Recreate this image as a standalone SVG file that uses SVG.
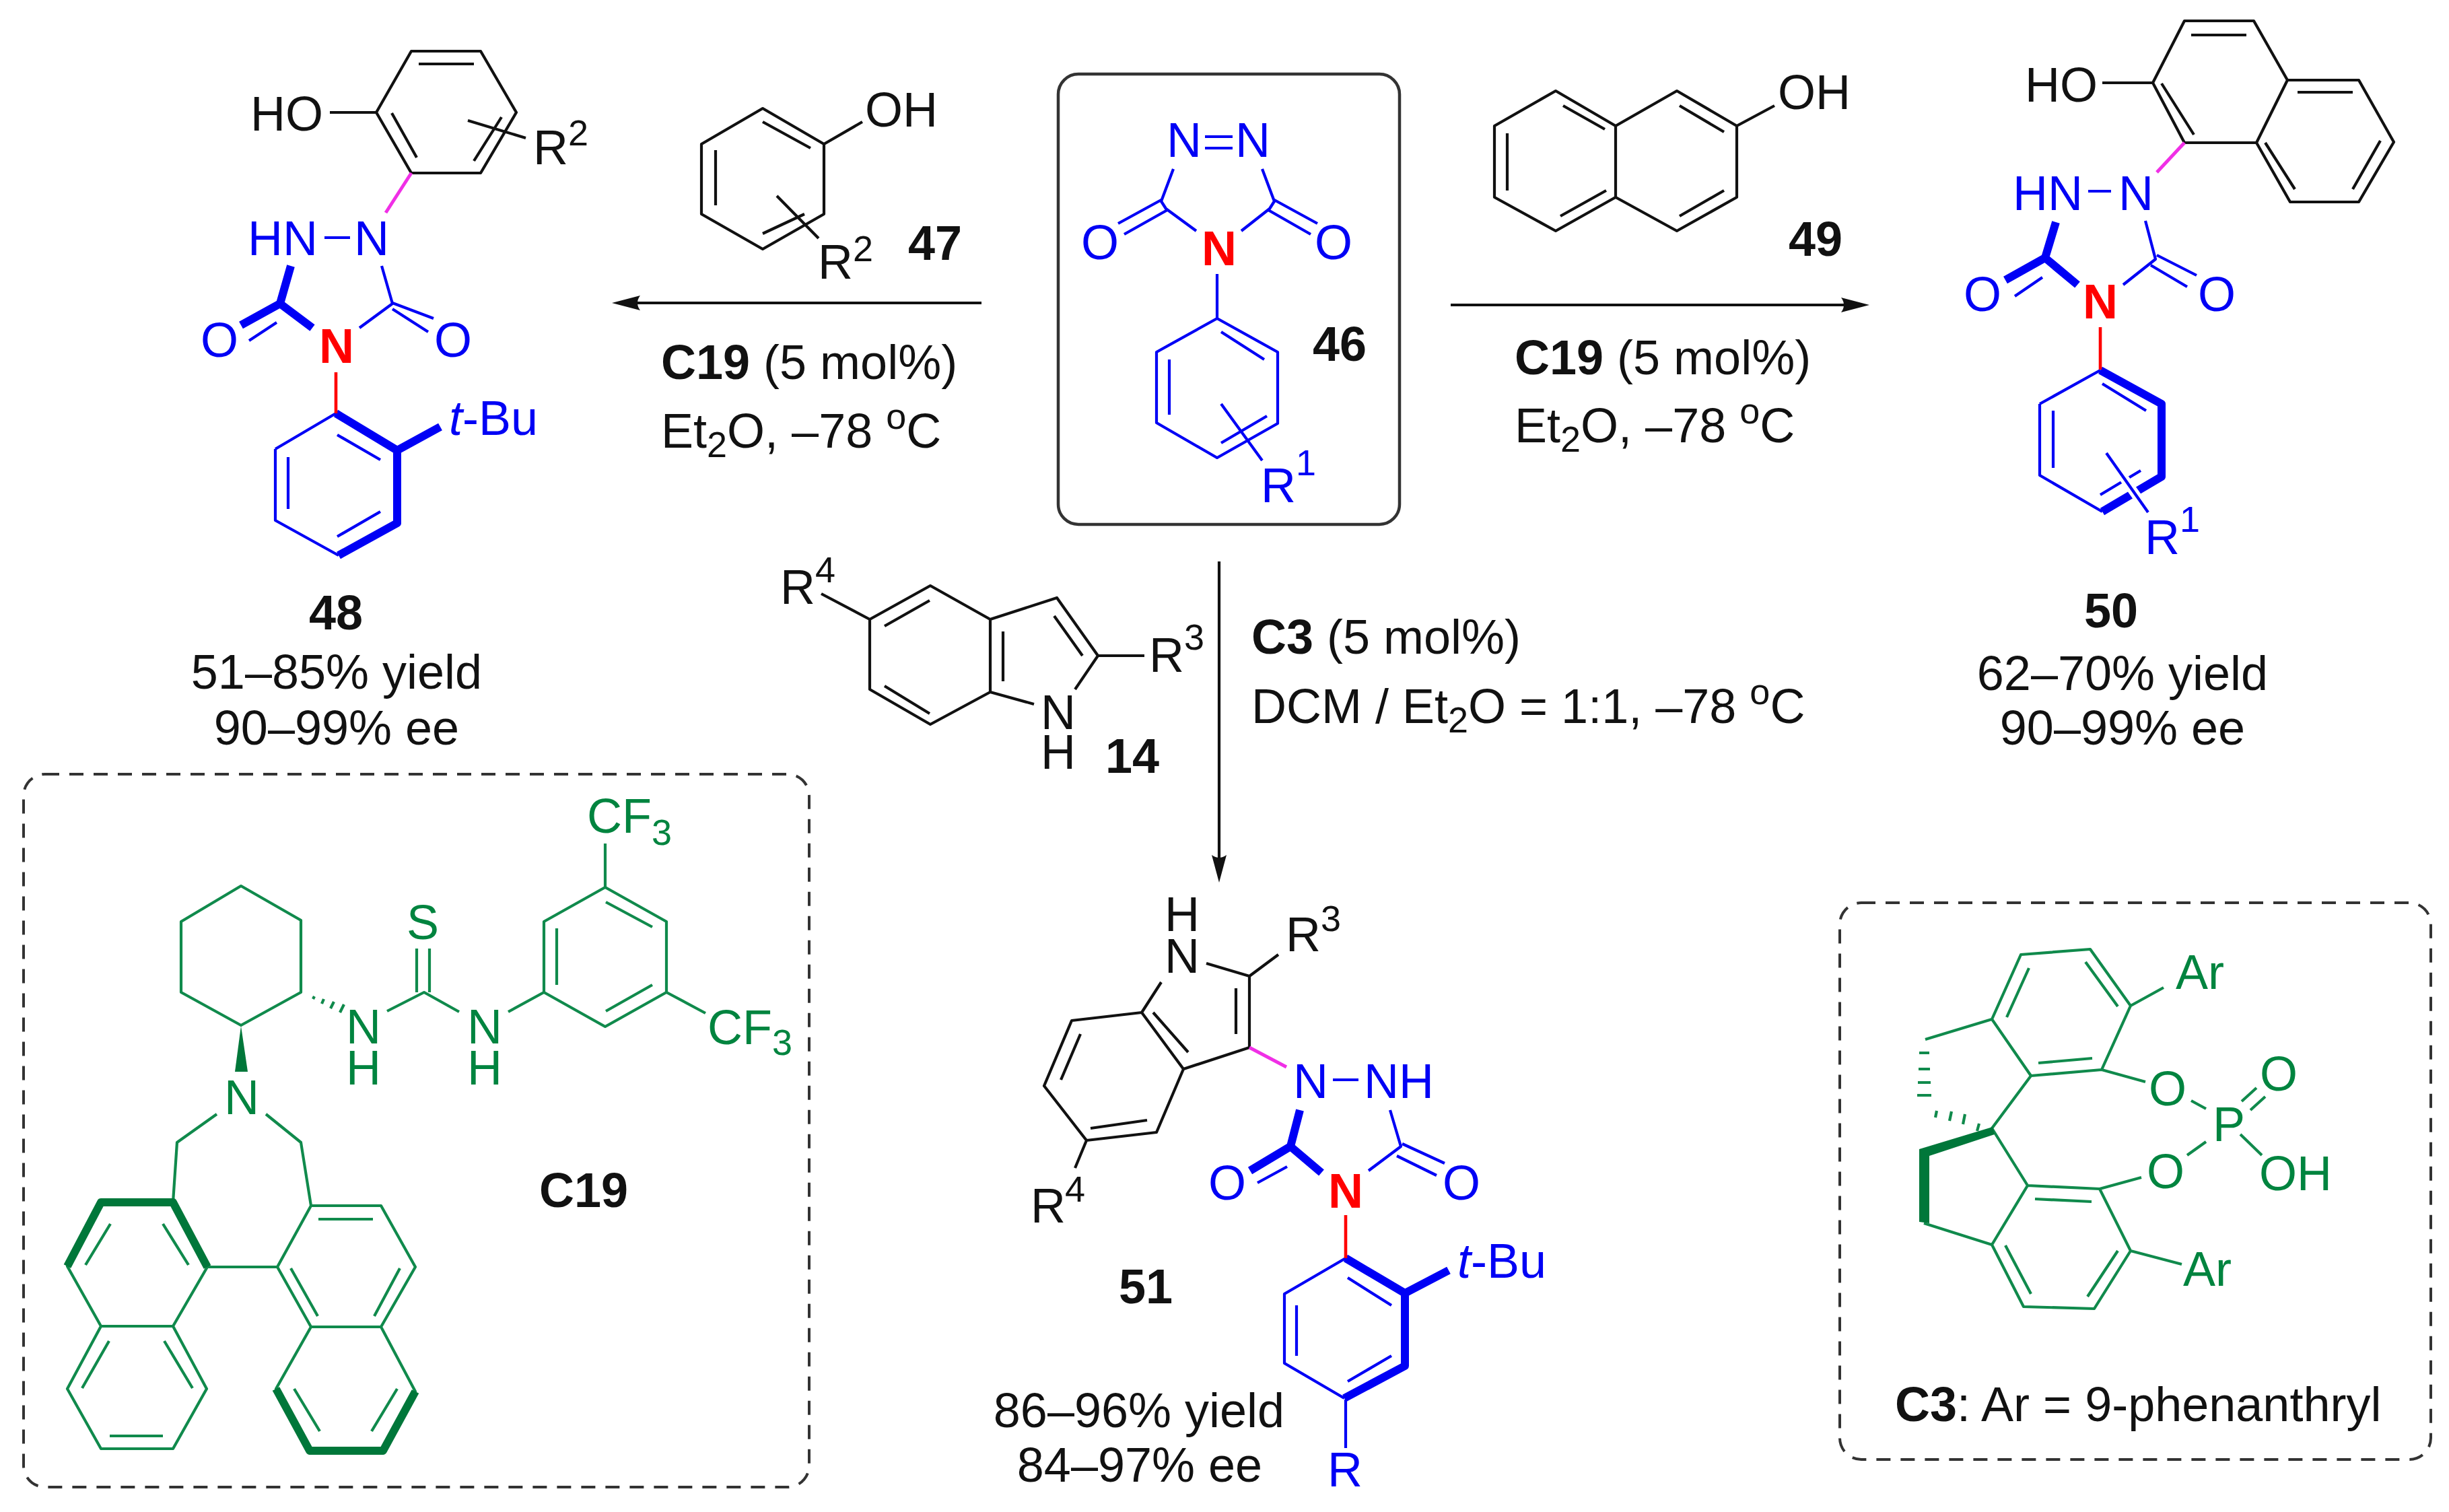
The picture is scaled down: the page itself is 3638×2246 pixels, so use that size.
<svg xmlns="http://www.w3.org/2000/svg" width="3638" height="2246" viewBox="0 0 3638 2246">
<style>
text{font-family:"Liberation Sans",Arial,sans-serif;font-size:72px;fill:#111}
.m{text-anchor:middle}
.h{font-weight:bold}
.s{font-size:54px}
.tb{fill:#0000f5}.tr{fill:#f00;font-weight:bold}.tg{fill:#00843f}
path{fill:none;stroke-width:4.2;stroke-linecap:butt;stroke-linejoin:round}
.k{stroke:#111}.b{stroke:#0000f5}.g{stroke:#108a4c}.r{stroke:#f00;stroke-width:4.6}.p{stroke:#f02fe6;stroke-width:5}
.B{stroke:#0000f5;stroke-width:12}.G{stroke:#00773a;stroke-width:12}
.w{stroke:#fff;stroke-width:14}
.d{fill:none;stroke:#333;stroke-width:4;stroke-dasharray:21 15}
.ar{fill:#111;stroke:none}
.gf{fill:#00773a;stroke:none}
</style>
<rect width="3638" height="2246" fill="#fff"/>
<g id="connectors">
<path class="k" d="M1458 450H935"/><path class="ar" d="M909 450L951 439Q943 450 951 461Z"/>
<path class="k" d="M2155 453H2750"/><path class="ar" d="M2777 453L2735 442Q2743 453 2735 464Z"/>
<path class="k" d="M1811 834V1285"/><path class="ar" d="M1811 1311L1800 1270Q1811 1278 1822 1270Z"/>
</g>
<g id="conditions">
<text x="982" y="563"><tspan class="h">C19</tspan> (5 mol%)</text>
<text x="982" y="665">Et<tspan class="s" dy="14">2</tspan><tspan dy="-14">O, –78 </tspan><tspan class="s" dy="-28">o</tspan><tspan dy="28">C</tspan></text>
<text x="2250" y="556"><tspan class="h">C19</tspan> (5 mol%)</text>
<text x="2250" y="657">Et<tspan class="s" dy="14">2</tspan><tspan dy="-14">O, –78 </tspan><tspan class="s" dy="-28">o</tspan><tspan dy="28">C</tspan></text>
<text x="1859" y="971"><tspan class="h">C3</tspan> (5 mol%)</text>
<text x="1859" y="1074">DCM / Et<tspan class="s" dy="14">2</tspan><tspan dy="-14">O = 1:1, –78 </tspan><tspan class="s" dy="-28">o</tspan><tspan dy="28">C</tspan></text>
</g>
<g id="node-46">
<rect x="1572" y="110" width="507" height="669" rx="30" fill="none" stroke="#333" stroke-width="4.5"/>
<text class="tb m" x="1759" y="233">N</text><text class="tb m" x="1861" y="233">N</text>
<path class="b" d="M1790 203H1831M1790 220H1831M1743 251L1725 299L1732 310L1777 343M1875 251L1893 299L1886 310L1844 343M1725 297L1661 332M1734 312L1670 348M1893 297L1957 332M1884 312L1947 348M1808 407V473L1898 523V629L1808 680L1718 628V523L1808 473M1814 493L1878 534M1737 534V616M1814 658L1882 618M1814 600L1875 684"/>
<text class="tb m" x="1634" y="385">O</text><text class="tb m" x="1981" y="385">O</text>
<text class="tr m" x="1811" y="394">N</text>
<text class="tb" x="1873" y="746">R</text><text class="tb s" x="1925" y="706">1</text>
<text class="h m" x="1990" y="536">46</text>
</g>
<g id="node-47">
<path class="k" d="M1133 161L1224 214V318L1133 370L1042 318V214ZM1133 181L1204 220M1063 223V305M1133 347L1195 318M1154 291L1216 354M1224 214L1281 181"/>
<text x="1285" y="188">OH</text>
<text x="1215" y="414">R</text><text class="s" x="1267" y="388">2</text>
<text class="h" x="1349" y="386">47</text>
</g>
<g id="node-48">
<path class="k" d="M490 167H559L611 76H714L767 167L714 257H611L559 167M622 95H704M582 168L619 234M745 174L704 239M695 179L781 205"/>
<text x="372" y="194">HO</text>
<text x="792" y="244">R</text><text class="s" x="844" y="216">2</text>
<path class="p" d="M611 257L573 316"/>
<text class="tb" x="368" y="379">HN</text>
<path class="b" d="M482 353H520"/>
<text class="tb" x="526" y="379">N</text>
<path class="B" d="M432 395L416 451L464 487M416 451L358 483M499 614L590 669V777L503 825M590 669L654 634"/>
<path class="b" d="M411 479L370 506M534 487L583 451L567 395M583 450L644 473M583 459L636 493M409 667L499 614M409 667V773L503 825M501 646L565 683M428 679V756M501 797L565 760"/>
<path class="r" d="M499 553V614"/>
<text class="tb m" x="326" y="530">O</text><text class="tb m" x="673" y="530">O</text>
<text class="tr m" x="500" y="539">N</text>
<text class="tb" x="667" y="646"><tspan font-style="italic">t</tspan>-Bu</text>
<text class="h m" x="499" y="935">48</text>
<text class="m" x="500" y="1023">51–85% yield</text>
<text class="m" x="500" y="1106">90–99% ee</text>
</g>
<g id="node-49">
<path class="k" d="M2311 135L2400 187V293L2311 343L2220 293V187ZM2400 187L2491 135L2580 187V293L2491 343L2400 293M2322 157L2384 192M2239 198V283M2318 321L2386 283M2495 157L2561 196M2495 321L2561 283M2580 187L2636 157"/>
<text x="2641" y="162">OH</text>
<text class="h" x="2657" y="380">49</text>
</g>
<g id="node-50">
<path class="k" d="M3123 123H3198L3245 31H3348L3398 119H3504L3556 211L3504 300H3402L3352 212L3398 119M3352 212H3245L3198 123M3255 52H3337M3211 124L3259 200M3413 137H3495M3536 209L3495 281M3365 212L3409 281"/>
<text x="3008" y="151">HO</text>
<path class="p" d="M3245 212L3204 256"/>
<text class="tb" x="2990" y="312">HN</text>
<path class="b" d="M3102 284H3136"/>
<text class="tb" x="3147" y="312">N</text>
<path class="B" d="M3054 330L3038 383L3086 423M3038 383L2979 416M3120 550L3211 600V708L3123 760"/>
<path class="b" d="M3034 412L2993 440M3154 423L3202 385L3187 328M3204 379L3263 409M3195 394L3249 426M3030 600L3120 550M3030 600V706L3123 760M3123 570L3188 610M3050 610V695M3120 735L3180 699"/>
<path class="w" d="M3129 673L3191 761"/>
<path class="b" d="M3129 673L3191 761"/>
<path class="r" d="M3120 486V549"/>
<text class="tb m" x="2945" y="462">O</text><text class="tb m" x="3293" y="462">O</text>
<text class="tr m" x="3120" y="473">N</text>
<text class="tb" x="3186" y="823">R</text><text class="tb s" x="3238" y="790">1</text>
<text class="h m" x="3136" y="932">50</text>
<text class="m" x="3153" y="1025">62–70% yield</text>
<text class="m" x="3153" y="1106">90–99% ee</text>
</g>
<g id="node-14">
<path class="k" d="M1220 882L1292 920L1382 870L1471 920V1028L1382 1076L1292 1024V920M1314 930L1381 892M1314 1019L1381 1060M1490 938V1012M1471 920L1570 888L1631 974L1597 1024M1471 1028L1536 1046M1566 915L1608 974M1631 974H1700"/>
<text x="1159" y="897">R</text><text class="s" x="1211" y="865">4</text>
<text x="1707" y="998">R</text><text class="s" x="1759" y="965">3</text>
<text class="m"><tspan x="1572" y="1083">N</tspan><tspan x="1572" y="1142">H</tspan></text>
<text class="h" x="1642" y="1148">14</text>
</g>
<g id="node-51">
<text class="m"><tspan x="1756" y="1383">H</tspan><tspan x="1756" y="1445">N</tspan></text>
<text x="1910" y="1413">R</text><text class="s" x="1962" y="1383">3</text>
<path class="k" d="M1792 1431L1856 1450L1899 1418M1856 1450V1556L1758 1588L1696 1504L1725 1459M1836 1468V1536M1713 1504L1765 1563M1696 1504L1592 1516L1551 1613L1614 1694L1718 1682L1758 1588M1605 1536L1576 1604M1620 1676L1704 1664M1614 1694L1597 1735"/>
<text x="1531" y="1816">R</text><text class="s" x="1582" y="1785">4</text>
<path class="p" d="M1856 1556L1911 1585"/>
<text class="tb" x="1921" y="1631">N</text>
<path class="b" d="M1980 1604H2018"/>
<text class="tb" x="2026" y="1631">NH</text>
<path class="B" d="M1931 1649L1917 1703L1963 1742M1917 1703L1857 1739M1999 1869L2087 1921V2029L1997 2077M2087 1921L2152 1887"/>
<path class="b" d="M1912 1733L1868 1757M2033 1739L2081 1703L2065 1649M2083 1699L2146 1728M2075 1717L2134 1746M1999 1869L1908 1922V2025L1997 2077M2002 1898L2067 1939M1926 1939V2014M2002 2052L2067 2014M1999 2079V2151"/>
<path class="r" d="M1999 1805V1869"/>
<text class="tb m" x="1823" y="1782">O</text><text class="tb m" x="2171" y="1782">O</text>
<text class="tr m" x="1999" y="1794">N</text>
<text class="tb" x="2165" y="1898"><tspan font-style="italic">t</tspan>-Bu</text>
<text class="tb m" x="1998" y="2208">R</text>
<text class="h m" x="1702" y="1936">51</text>
<text class="m" x="1692" y="2120">86–96% yield</text>
<text class="m" x="1693" y="2201">84–97% ee</text>
</g>
<g id="node-C19">
<rect class="d" x="35" y="1150" width="1167" height="1059" rx="32"/>
<path class="g" d="M358 1316L447 1367V1474L358 1523L269 1474V1369ZM575 1502L630 1474L682 1503M619 1409V1474M638 1409V1474M755 1503L808 1474V1369L899 1318L990 1369V1474L899 1525L808 1474M827 1379V1463M900 1340L969 1377M900 1502L969 1463M899 1253V1318M990 1474L1048 1505M322 1655L263 1697L257 1786M395 1655L447 1697L462 1791M150 1786L100 1881L150 1970H257L308 1882L257 1786M164 1818L127 1879M242 1818L280 1879M150 1970L100 2063L150 2152H257L307 2063L257 1970M162 1992L122 2062M244 1992L286 2062M163 2133H242M308 1882H412L462 1791H566L617 1882L566 1971H462L412 1882M473 1811H554M594 1884L556 1955M432 1884L472 1955M462 1971L410 2063L460 2155H569L617 2067L566 1971M437 2063L475 2126M590 2063L552 2126"/>
<path class="G" d="M100 1881L150 1786H257L308 1882M410 2063L460 2155H569L617 2067"/>
<path class="gf" d="M358 1524L349 1592H368Z"/>
<path class="g" d="M467 1480L465 1484M481 1484L478 1491M496 1488L491 1498M511 1492L505 1504"/>
<text class="tg m" x="359" y="1655">N</text>
<text class="tg m"><tspan x="540" y="1550">N</tspan><tspan x="540" y="1611">H</tspan></text>
<text class="tg m"><tspan x="720" y="1550">N</tspan><tspan x="720" y="1611">H</tspan></text>
<text class="tg m" x="628" y="1395">S</text>
<text class="tg" x="872" y="1237">CF<tspan class="s" dy="18">3</tspan></text>
<text class="tg" x="1051" y="1551">CF<tspan class="s" dy="16">3</tspan></text>
<text class="h" x="801" y="1793">C19</text>
</g>
<g id="node-C3">
<rect class="d" x="2733" y="1341" width="878" height="827" rx="32"/>
<path class="g" d="M3002 1418L3105 1410L3165 1494L3122 1589L3017 1598L2959 1514ZM3014 1438L2981 1511M3098 1429L3146 1495M3028 1579L3108 1572M3165 1494L3214 1467M2959 1514L2860 1544M3017 1598L2959 1676L3012 1761L3119 1766L3165 1858L3111 1944L3006 1941L2959 1849L3012 1761M2959 1849L2858 1817M3023 1781L3107 1785M3146 1858L3101 1926M2979 1850L3017 1922M3165 1858L3241 1878M3122 1589L3187 1607M3119 1766L3181 1749M3255 1635L3277 1647M3249 1716L3277 1696M3330 1636L3352 1616M3343 1649L3365 1629M3328 1685L3360 1716"/>
<path class="g" d="M2851 1564H2866M2850 1588H2867M2849 1608H2868M2848 1627H2869M2877 1650L2875 1660M2899 1651L2896 1665M2919 1655L2916 1670M2940 1669L2937 1680"/>
<path class="gf" d="M2960 1674L2851 1707V1815L2866 1817V1717L2963 1685Z"/>
<text class="tg" x="3232" y="1469">Ar</text><text class="tg" x="3243" y="1910">Ar</text>
<text class="tg m" x="3220" y="1642">O</text><text class="tg m" x="3217" y="1765">O</text>
<text class="tg m" x="3311" y="1695">P</text>
<text class="tg m" x="3385" y="1620">O</text>
<text class="tg" x="3356" y="1768">OH</text>
<text x="2815" y="2111"><tspan class="h">C3</tspan>: Ar = 9-phenanthryl</text>
</g>
</svg>
